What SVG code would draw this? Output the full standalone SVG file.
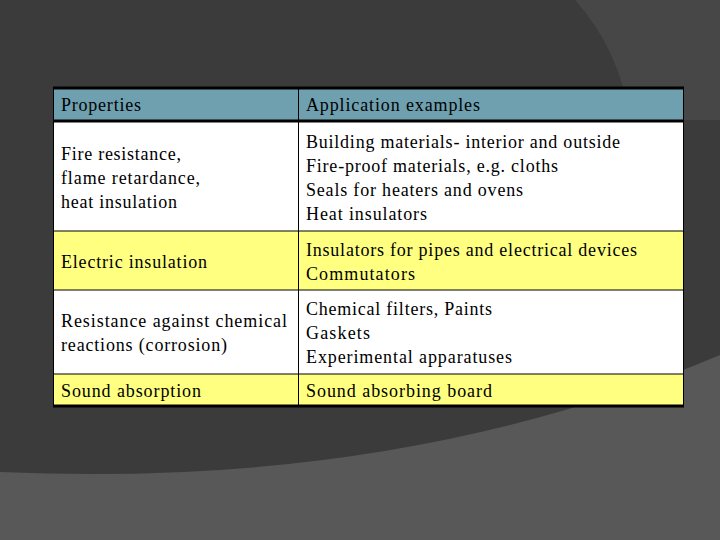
<svg xmlns="http://www.w3.org/2000/svg" width="720" height="540" viewBox="0 0 720 540">
<defs>
<style>
.t{font-family:'Liberation Serif','DejaVu Serif',serif;font-size:18px;fill:#000}
</style>
</defs>
<rect width="720" height="540" fill="#3b3b3b"/>
<path d="M575,0 Q620,50 630,120 L720,120 L720,0 Z" fill="#474747"/>
<path d="M0,472 Q400,490 720,355 L720,540 L0,540 Z" fill="#585858"/>
<g id="table">
<rect x="53" y="87" width="631" height="34" fill="#6fa0b0"/>
<rect x="53" y="121" width="631" height="110" fill="#fff"/>
<rect x="53" y="231" width="631" height="59" fill="#ffff80"/>
<rect x="53" y="290" width="631" height="84" fill="#fff"/>
<rect x="53" y="374" width="631" height="32" fill="#ffff80"/>
<g stroke="#000" stroke-width="1">
<line x1="53" y1="88" x2="684" y2="88" stroke-width="3"/>
<line x1="53" y1="121" x2="684" y2="121" stroke-width="3"/>
<line x1="53" y1="231" x2="684" y2="231"/>
<line x1="53" y1="290" x2="684" y2="290"/>
<line x1="53" y1="374" x2="684" y2="374"/>
<line x1="53" y1="406" x2="684" y2="406" stroke-width="3"/>
<line x1="53.5" y1="87" x2="53.5" y2="407"/>
<line x1="683.5" y1="87" x2="683.5" y2="407"/>
<line x1="298.5" y1="87" x2="298.5" y2="407"/>
</g>
</g>
<g id="texts">
<text class="t" x="61" y="111" textLength="80">Properties</text>
<text class="t" x="306" y="111" textLength="174">Application examples</text>
<text class="t" x="61" y="160" textLength="120">Fire resistance,</text>
<text class="t" x="61" y="184" textLength="139">flame retardance,</text>
<text class="t" x="61" y="208" textLength="116">heat insulation</text>
<text class="t" x="306" y="148" textLength="314">Building materials- interior and outside</text>
<text class="t" x="306" y="172" textLength="252">Fire-proof materials, e.g. cloths</text>
<text class="t" x="306" y="196" textLength="217">Seals for heaters and ovens</text>
<text class="t" x="306" y="220" textLength="121">Heat insulators</text>
<text class="t" x="61" y="268" textLength="146">Electric insulation</text>
<text class="t" x="306" y="256" textLength="331">Insulators for pipes and electrical devices</text>
<text class="t" x="306" y="280" textLength="109">Commutators</text>
<text class="t" x="61" y="327" textLength="226">Resistance against chemical</text>
<text class="t" x="61" y="351" textLength="166">reactions (corrosion)</text>
<text class="t" x="306" y="315" textLength="186">Chemical filters, Paints</text>
<text class="t" x="306" y="339" textLength="64">Gaskets</text>
<text class="t" x="306" y="363" textLength="206">Experimental apparatuses</text>
<text class="t" x="61" y="397" textLength="140">Sound absorption</text>
<text class="t" x="306" y="397" textLength="186">Sound absorbing board</text>
</g>
</svg>
